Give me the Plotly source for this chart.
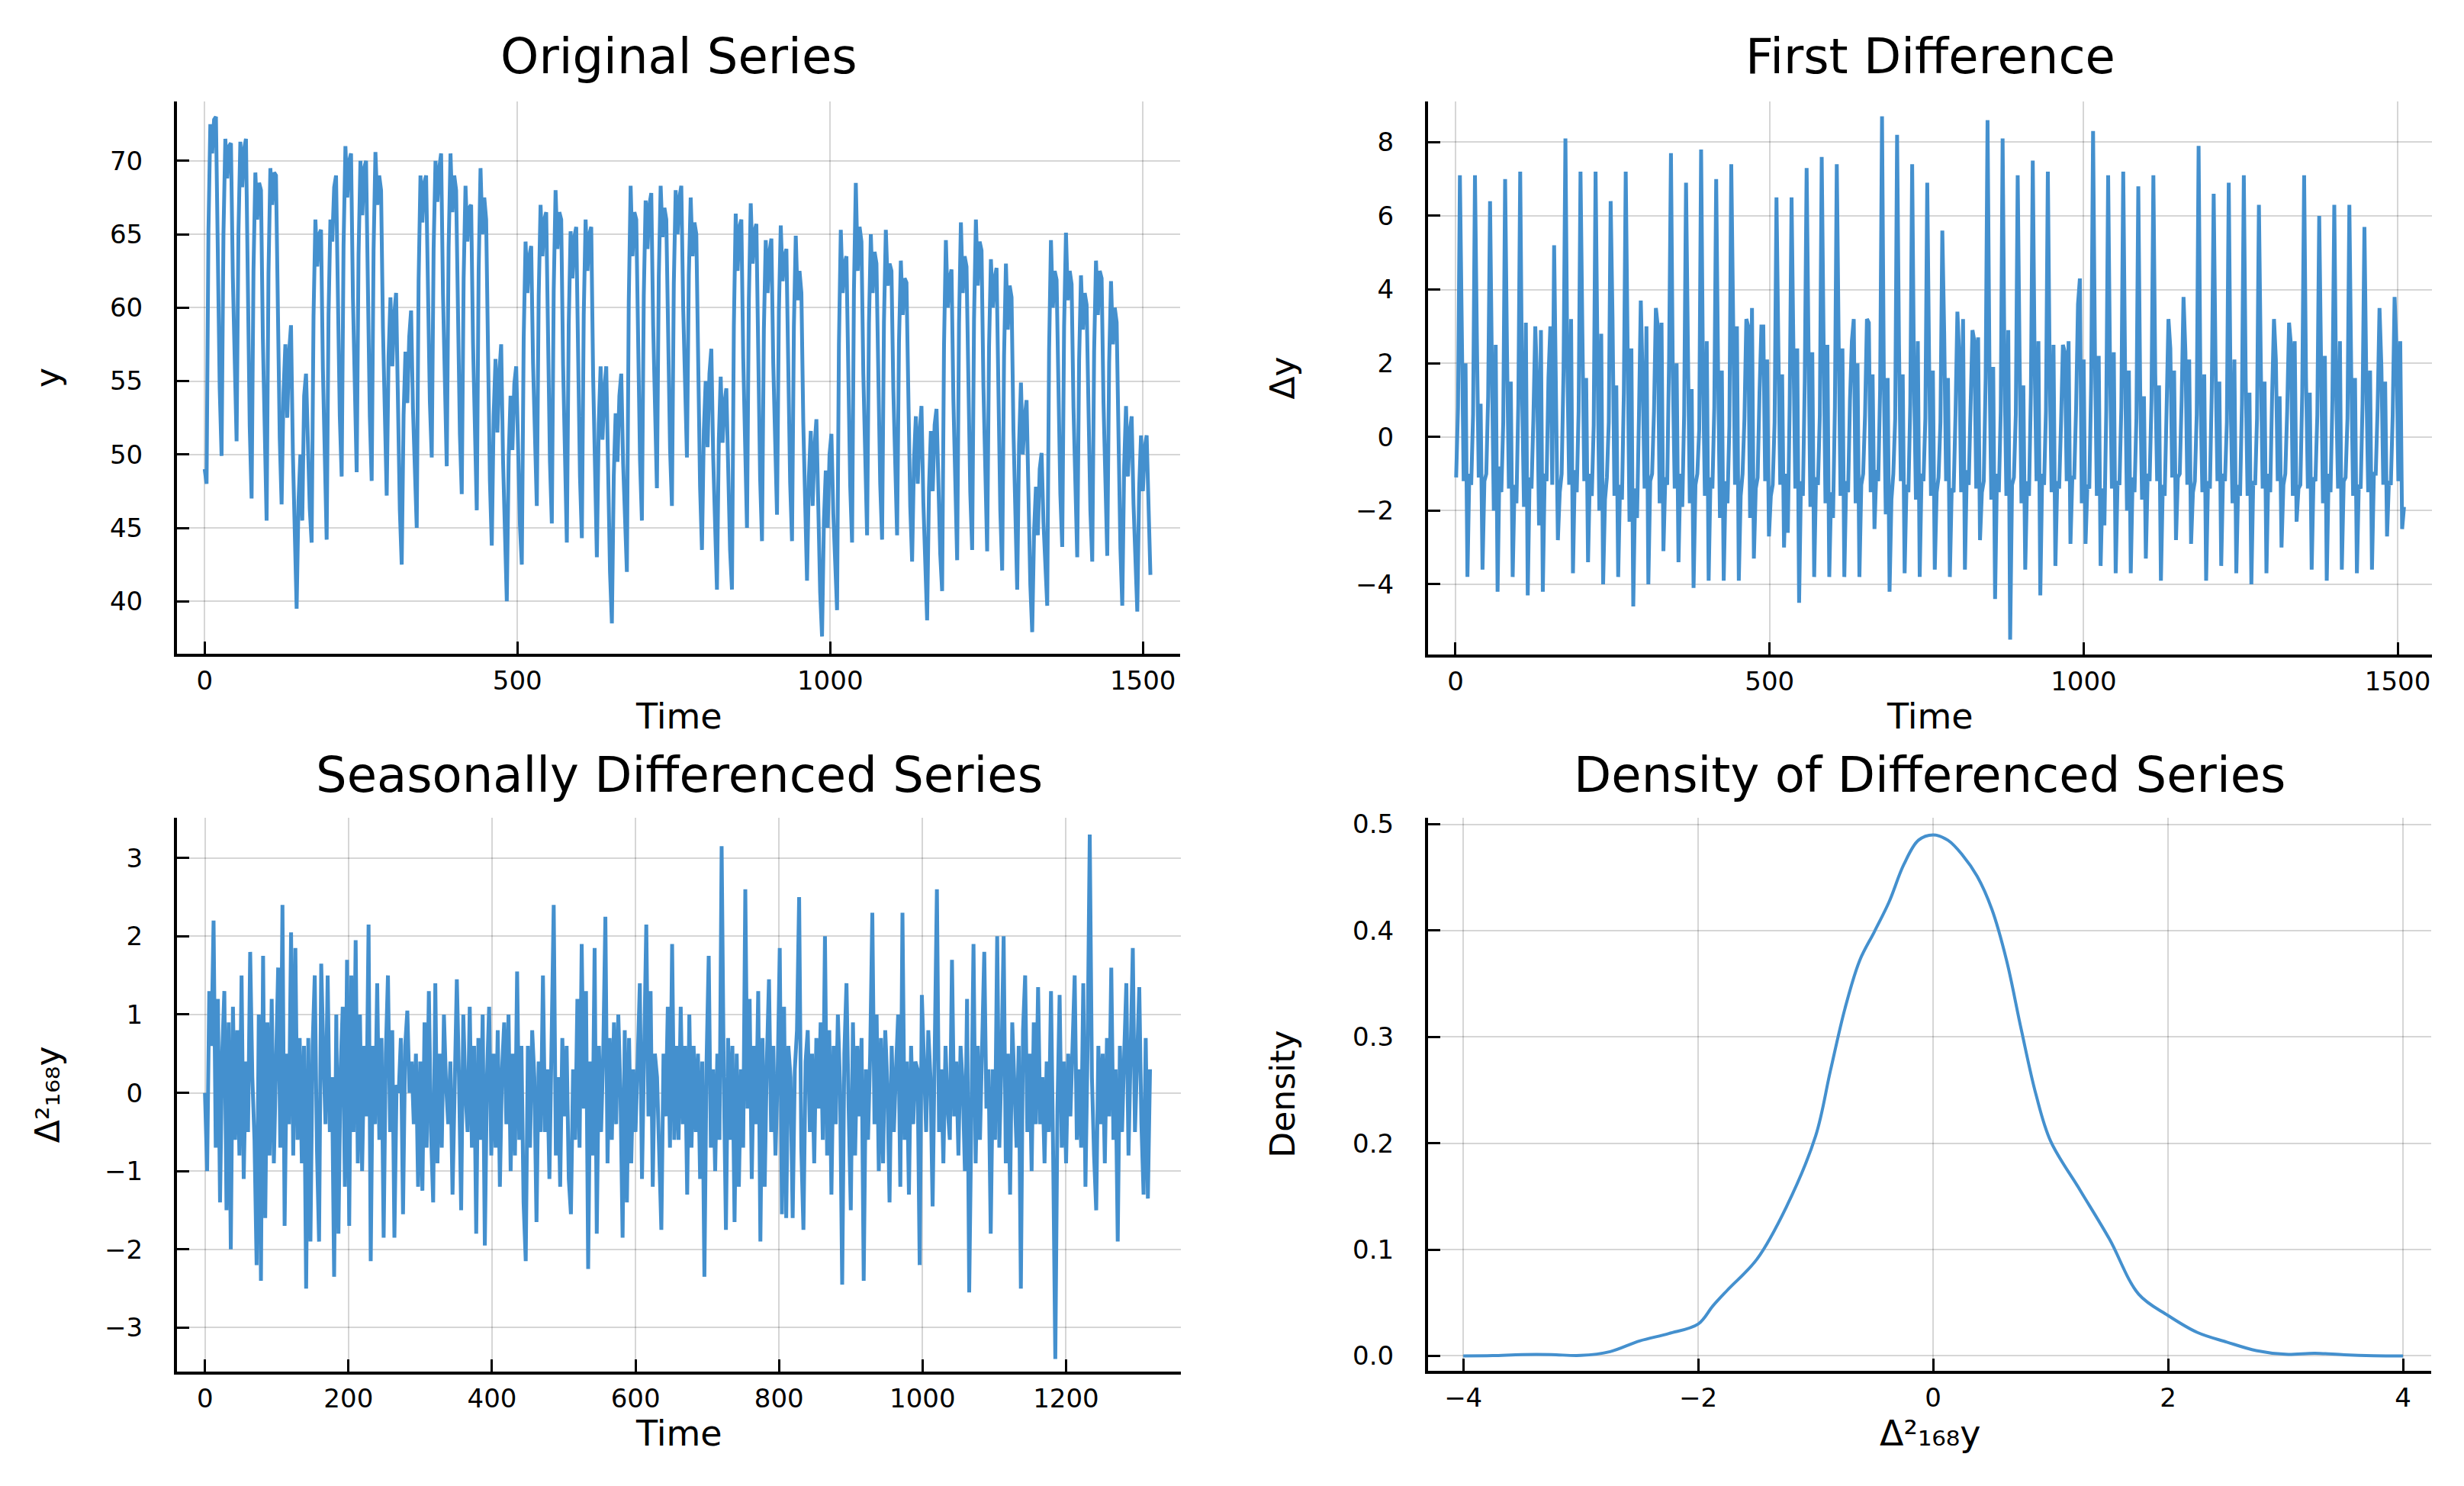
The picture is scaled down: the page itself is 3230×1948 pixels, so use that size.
import plotly.graph_objects as go

series_y = [
    49.0, 48.0, 65.2, 72.5, 70.5, 72.8, 73.0, 62.6,
    54.5, 49.9, 65.0, 71.5, 68.8, 71.0, 71.2, 62.1,
    55.0, 50.9, 65.2, 71.3, 68.2, 70.8, 71.5, 60.5,
    51.9, 47.0, 62.5, 69.2, 66.0, 68.5, 68.0, 57.9,
    50.0, 45.5, 62.3, 69.5, 67.0, 69.2, 69.0, 58.9,
    51.1, 46.6, 54.2, 57.5, 52.5, 57.0, 58.8, 50.1,
    43.4, 39.5, 46.8, 50.0, 45.5, 54.0, 55.5, 50.3,
    46.3, 44.0, 59.4, 66.0, 62.8, 65.0, 65.3, 55.8,
    48.4, 44.2, 59.5, 66.0, 64.5, 68.2, 69.0, 59.8,
    52.6, 48.5, 64.2, 71.0, 67.5, 70.0, 70.5, 60.7,
    53.1, 48.8, 63.6, 70.0, 66.3, 69.5, 70.0, 60.2,
    52.6, 48.2, 63.9, 70.6, 67.0, 69.0, 68.0, 58.6,
    51.4, 47.2, 56.7, 60.7, 56.0, 59.5, 61.0, 52.7,
    46.2, 42.5, 52.7, 57.0, 53.5, 58.0, 59.8, 53.1,
    48.0, 45.0, 61.8, 69.0, 65.8, 68.5, 69.0, 60.4,
    53.6, 49.8, 64.0, 70.0, 67.2, 69.5, 70.5, 60.9,
    53.5, 49.2, 64.1, 70.5, 66.5, 69.0, 68.0, 58.7,
    51.4, 47.3, 62.0, 68.3, 64.5, 66.8, 67.0, 57.6,
    50.4, 46.2, 62.5, 69.5, 65.0, 67.5, 66.0, 56.0,
    48.2, 43.8, 52.7, 56.5, 51.5, 55.5, 57.5, 49.6,
    43.5, 40.0, 49.8, 54.0, 50.3, 54.8, 56.0, 49.9,
    45.2, 42.5, 57.9, 64.5, 61.0, 63.5, 64.2, 56.2,
    50.0, 46.5, 60.8, 67.0, 63.5, 66.0, 66.5, 57.0,
    49.5, 45.3, 61.2, 68.0, 64.0, 66.5, 66.0, 56.1,
    48.4, 44.0, 58.8, 65.2, 62.0, 64.8, 65.5, 56.0,
    48.5, 44.3, 59.5, 66.0, 62.5, 65.0, 65.5, 55.4,
    47.5, 43.0, 52.1, 56.0, 51.0, 54.5, 56.0, 48.1,
    42.0, 38.5, 48.5, 52.8, 49.5, 54.0, 55.5, 49.4,
    44.7, 42.0, 60.4, 68.3, 63.5, 66.5, 66.0, 56.8,
    49.6, 45.5, 60.8, 67.3, 64.0, 67.0, 67.8, 58.8,
    51.7, 47.7, 62.1, 68.3, 64.8, 66.8, 66.0, 57.2,
    50.4, 46.5, 61.6, 68.0, 65.0, 67.5, 68.3, 60.0,
    53.5, 49.8, 62.2, 67.5, 63.5, 65.8, 65.0, 55.3,
    47.8, 43.5, 51.6, 55.0, 50.5, 55.5, 57.2, 49.8,
    44.1, 40.8, 51.0, 55.3, 50.8, 53.5, 54.5, 48.3,
    43.5, 40.8, 58.7, 66.4, 62.5, 65.5, 66.0, 56.6,
    49.2, 45.0, 60.5, 67.1, 63.0, 65.2, 65.7, 56.0,
    48.4, 44.1, 58.5, 64.6, 61.0, 63.8, 64.7, 56.2,
    49.7, 45.9, 59.7, 65.6, 61.8, 63.5, 64.0, 55.0,
    48.1, 44.1, 58.7, 64.9, 60.5, 62.5, 61.0, 52.2,
    45.3, 41.4, 48.5, 51.6, 46.5, 50.5, 52.4, 45.7,
    40.6, 37.6, 45.5, 48.9, 45.0, 50.0, 51.4, 46.0,
    41.8, 39.4, 57.5, 65.3, 61.0, 63.0, 63.5, 54.7,
    47.9, 44.0, 61.2, 68.5, 62.5, 65.5, 64.5, 55.5,
    48.5, 44.5, 58.9, 65.0, 61.0, 63.8, 63.0, 54.5,
    48.0, 44.2, 59.0, 65.3, 61.5, 63.0, 62.5, 54.4,
    48.1, 44.5, 57.6, 63.2, 59.5, 62.0, 61.7, 53.2,
    46.5, 42.7, 49.6, 52.6, 48.0, 51.5, 53.3, 46.7,
    41.6, 38.7, 47.7, 51.6, 47.5, 52.0, 53.1, 47.5,
    43.2, 40.7, 57.4, 64.6, 60.0, 62.0, 62.6, 53.7,
    46.8, 42.8, 58.9, 65.8, 61.0, 63.5, 62.8, 54.1,
    47.4, 43.5, 59.2, 66.0, 61.5, 64.5, 63.9, 54.7,
    47.5, 43.4, 57.3, 63.3, 60.0, 62.0, 62.7, 53.4,
    46.2, 42.1, 56.7, 63.0, 58.5, 61.5, 60.7, 51.7,
    44.8, 40.8, 50.7, 54.9, 50.0, 52.5, 53.7, 46.6,
    41.1, 37.9, 44.8, 47.8, 44.5, 49.0, 50.1, 45.4,
    41.8, 39.7, 57.1, 64.6, 60.0, 62.5, 61.9, 53.7,
    47.3, 43.7, 58.7, 65.1, 60.5, 62.5, 61.6, 53.2,
    46.7, 43.0, 56.4, 62.2, 58.5, 61.0, 60.2, 52.3,
    46.2, 42.7, 57.0, 63.2, 59.5, 62.5, 62.0, 53.5,
    46.9, 43.1, 56.2, 61.8, 57.5, 60.0, 59.0, 50.3,
    43.6, 39.7, 49.2, 53.3, 48.5, 51.5, 52.6, 46.6,
    42.0, 39.3, 47.7, 51.3, 47.5, 50.5, 51.3, 46.0,
    41.8,
]

diff_y = [
    -1.1, 0.8, 7.1, 1.9, -1.2, 2.0, -3.8, -1.0,
    -1.3, 0.6, 7.1, 2.7, -1.1, 0.9, -3.6, -1.2,
    -1.0, 1.1, 6.4, 1.8, -2.0, 2.5, -4.2, -0.8,
    -1.5, 0.4, 7.0, 2.3, -1.4, 1.5, -3.8, -1.3,
    -1.8, 0.9, 7.2, 1.2, -1.9, 3.1, -4.3, -1.1,
    -1.4, 0.5, 3.0, 1.4, -2.4, 2.9, -4.2, -1.0,
    -1.2, 1.6, 3.0, -1.3, 5.2, 1.1, -2.8, -1.5,
    -1.0, 1.8, 8.1, 2.0, -1.3, 3.2, -3.7, -0.9,
    -1.5, 0.7, 7.2, 2.8, -1.2, 1.6, -3.4, -1.0,
    -1.6, 0.3, 7.2, 2.2, -2.0, 2.8, -4.0, -1.7,
    -1.1, 0.4, 6.4, 3.2, -1.6, 1.4, -3.8, -1.3,
    -1.7, 1.2, 7.2, 2.4, -2.3, 2.4, -4.6, -1.4,
    -2.2, 0.5, 3.7, 1.5, -1.4, 3.0, -4.0, -1.2,
    -1.0, 0.7, 3.5, 3.0, -1.8, 3.1, -3.1, -1.1,
    -1.3, 2.1, 7.7, 1.6, -1.4, 2.0, -3.4, -1.0,
    -1.9, 0.6, 6.9, 2.4, -1.8, 1.3, -4.1, -1.3,
    -1.0, 0.2, 7.8, 1.7, -1.6, 2.6, -3.9, -1.1,
    -1.4, 0.8, 7.0, 1.8, -2.2, 1.8, -3.9, -1.2,
    -1.8, 0.3, 7.4, 3.2, -1.3, 3.0, -3.9, -1.6,
    -1.0, 0.5, 3.2, 3.0, -2.2, 3.5, -3.3, -1.4,
    -1.1, 1.2, 3.0, 3.0, -1.2, 2.1, -2.7, -1.6,
    -1.3, 0.4, 6.5, 2.4, -1.3, 1.7, -3.0, -1.0,
    -2.6, 0.9, 6.5, 2.3, -1.4, 2.4, -4.5, -1.2,
    -1.6, 1.5, 7.3, 2.4, -1.9, 2.3, -3.8, -1.1,
    -1.3, 0.6, 7.6, 2.6, -1.8, 2.5, -3.8, -1.5,
    -2.2, 0.8, 7.4, 2.6, -1.6, 2.4, -3.8, -1.2,
    -1.5, 1.0, 2.6, 3.2, -1.8, 2.0, -3.8, -1.3,
    -1.0, 0.6, 3.2, 3.1, -1.5, 1.7, -2.5, -0.9,
    -1.2, 1.3, 8.7, 1.4, -2.1, 1.6, -4.2, -1.7,
    -1.0, 0.5, 8.2, 2.5, -1.2, 1.7, -3.7, -1.3,
    -1.5, 0.9, 7.4, 1.5, -1.7, 2.6, -3.8, -1.0,
    -1.2, 0.5, 6.9, 2.0, -1.6, 1.8, -3.6, -1.5,
    -1.1, 0.4, 5.6, 2.8, -1.2, 1.6, -3.8, -1.4,
    -1.5, 0.6, 3.4, 2.2, -1.5, 3.2, -3.6, -0.9,
    -1.3, 0.8, 2.9, 2.6, -1.4, 2.7, -2.8, -1.5,
    -1.2, 1.6, 8.6, 2.0, -1.7, 1.9, -4.4, -1.0,
    -1.5, 0.7, 8.1, 1.8, -1.6, 2.9, -5.5, -1.3,
    -1.1, 0.6, 7.1, 2.2, -1.8, 1.4, -3.6, -1.2,
    -1.6, 1.2, 7.5, 2.0, -1.2, 2.6, -4.3, -1.0,
    -1.3, 0.7, 7.2, 1.7, -1.5, 2.5, -3.5, -1.2,
    -1.4, 0.4, 2.5, 2.3, -1.2, 2.6, -2.9, -1.1,
    -1.1, 0.8, 3.6, 4.3, -1.8, 2.1, -2.9, -1.3,
    -1.4, 1.5, 8.3, 2.2, -1.6, 2.2, -3.5, -1.4,
    -2.4, 0.7, 7.1, 1.9, -1.4, 2.3, -3.7, -1.2,
    -1.3, 0.8, 7.2, 1.8, -2.0, 1.8, -3.7, -1.1,
    -1.5, 0.5, 6.8, 1.3, -1.7, 1.1, -3.3, -1.0,
    -1.2, 1.0, 7.1, 1.7, -1.2, 1.4, -3.9, -1.3,
    -1.6, 0.7, 3.2, 2.4, -1.1, 1.8, -2.8, -1.1,
    -1.0, 1.0, 3.8, 2.3, -1.3, 2.1, -2.9, -1.5,
    -1.2, 0.6, 7.9, 1.1, -1.5, 1.7, -3.9, -1.2,
    -1.4, 1.3, 6.6, 2.0, -1.2, 1.5, -3.5, -1.0,
    -1.2, 0.4, 6.9, 1.0, -1.8, 2.1, -3.7, -1.3,
    -1.6, 0.9, 7.1, 1.5, -1.6, 1.2, -4.0, -1.2,
    -1.3, 0.5, 6.3, 2.0, -1.4, 1.5, -3.7, -1.0,
    -1.5, 1.1, 3.2, 2.1, -1.2, 1.1, -3.0, -1.3,
    -1.0, 0.7, 3.1, 2.5, -1.6, 2.6, -2.3, -1.4,
    -1.3, 1.2, 7.1, 1.6, -1.4, 1.2, -3.6, -1.1,
    -1.2, 0.6, 6.0, 2.0, -1.8, 2.2, -3.9, -1.0,
    -1.5, 1.0, 6.3, 1.2, -1.4, 2.6, -3.6, -1.2,
    -1.1, 0.5, 6.3, 1.7, -1.6, 1.6, -3.7, -1.3,
    -1.4, 0.9, 5.7, 1.5, -1.5, 1.8, -3.6, -1.0,
    -1.0, 0.8, 3.5, 1.9, -1.3, 1.5, -2.7, -1.2,
    -1.3, 0.6, 3.8, 2.4, -1.2, 2.6, -2.5, -1.9,
]

seasonal_y = [
    0.0, -1.0, 1.3, 0.6, 2.2, -0.7, 1.2, -1.4, 0.5, 1.3, -1.5, 0.9, -2.0, 1.1, -0.6, 0.8, -0.8, 1.5, -1.1, 0.4,
    -0.5, 1.8, 0.2, -0.6, -2.2, 1.0, -2.4, 1.75, -1.6, 0.9, -0.8, 1.2, -0.9, 0.4, 1.6, -0.7, 2.4, -1.7, 0.5, -0.4,
    2.05, -0.8, 1.85, -0.6, 0.7, -0.9, 0.6, -2.5, 0.7, -1.9, 0.6, 1.5, -0.7, -1.9, 1.65, 0.5, -0.4, 1.5, -0.5, 0.2,
    -2.35, 1.0, -1.8, 0.3, 1.1, -1.2, 1.7, -1.7, 1.5, -0.5, 1.95, -0.9, 1.0, -1.0, 0.6, -0.3, 2.15, -2.15, 0.6, -0.4,
    1.4, -0.6, 0.7, -1.85, 0.5, 1.5, -0.5, 0.8, -1.85, 0.1, 0.0, 0.7, -1.55, 0.6, 1.05, 0.0, 0.4, -0.4, 0.5, -1.2,
    0.4, -1.25, 0.9, -0.7, 1.3, -0.5, -1.4, 1.4, -0.9, 0.5, -0.7, 1.0, 0.1, -0.4, 0.4, -1.3, 0.3, 1.45, 0.2, -1.5,
    1.0, 0.0, -0.5, 1.1, -0.7, 0.6, -1.8, 0.7, -0.6, 1.0, -1.95, 0.2, 1.1, -0.8, 0.5, -0.7, 0.8, -1.2, 0.3, 0.9,
    -0.4, 1.0, -1.0, 0.5, -0.8, 1.55, -0.6, 0.6, -1.4, -2.15, 0.6, -0.7, 0.8, 0.2, -1.65, 0.4, -0.5, 1.5, -0.5, 0.3,
    -1.1, 0.6, 2.4, -0.8, 0.2, -1.2, 0.7, -0.3, 0.6, -1.1, -1.55, 0.3, -0.6, 1.2, -0.7, 1.9, -0.2, 1.3, -2.25, 0.4,
    -0.8, 1.85, -1.8, 0.6, -0.5, 0.5, 2.25, -0.9, 0.7, -0.6, 0.9, -0.4, 1.0, 0.0, -1.85, 0.8, -1.4, 0.7, -0.9, 0.3,
    -0.5, 0.4, 1.4, -1.1, 0.6, 2.15, -0.3, 1.3, -1.2, 0.5, 0.2, -0.6, -1.75, 0.5, -0.3, 1.1, -0.7, 1.9, -0.6, 0.6,
    -0.6, 1.1, -0.4, 0.6, -1.3, 1.0, -0.7, 0.6, -0.5, 0.5, -1.1, 0.4, -2.35, 0.4, 1.75, -0.7, 0.3, -1.0, 0.5, -0.6,
    3.15, 0.2, -1.75, 0.7, -0.6, 0.6, -1.65, 0.5, -1.2, 0.3, -0.7, 2.6, -0.2, 1.2, -1.1, 0.6, -0.4, 1.3, -1.9, 0.7,
    -1.2, 0.4, 1.45, -0.5, 0.6, -0.8, 0.2, 1.85, -1.55, 1.1, -1.6, 0.6, 0.2, -1.6, 0.3, 0.8, 2.5, -0.7, -1.75, 0.4,
    0.8, -0.5, 0.5, -0.9, 0.7, -0.2, 0.9, -0.6, 2.0, -0.8, 0.8, -1.3, 0.6, -0.4, 1.0, 0.1, -2.45, 0.5, 1.4, -0.2,
    -1.5, 0.9, -0.8, 0.6, -0.3, 0.7, -2.4, 0.3, -0.6, 0.5, 2.3, -0.4, 1.0, -1.0, 0.7, -0.9, 0.8, 0.1, -1.4, 0.6,
    -0.5, 0.3, 1.0, -1.2, 2.3, -0.6, 0.4, -1.3, 0.6, -0.4, 0.4, 0.3, -2.2, 1.25, 0.4, -0.5, 0.8, 0.2, -1.45, 0.5,
    2.6, -0.5, 0.3, -0.9, 0.6, -0.2, -0.6, 1.7, -0.3, 0.4, -0.8, 0.6, 0.1, -1.0, 1.2, -2.55, -0.2, 1.9, -0.9, 0.6,
    -0.6, 0.6, 1.8, -0.2, 0.3, -1.8, 0.3, -0.6, 2.0, -0.7, 0.4, 2.0, -0.9, 0.5, -1.3, 0.9, 0.2, -0.7, 0.6, -2.5,
    0.8, 1.5, -0.5, 0.5, -1.0, 0.9, -0.4, 1.35, -0.4, 0.2, -0.9, 0.4, -0.5, 1.3, -0.8, -3.4, -0.2, 1.25, -0.7, 0.4,
    -0.9, 0.5, -0.3, 0.7, 1.5, -0.6, 0.3, -0.7, 1.4, -1.2, 0.6, 3.3, 0.2, -0.8, -1.5, 0.6, -0.4, 0.5, -0.9, 0.7,
    -0.3, 1.6, -0.6, 0.3, -1.9, 0.6, -0.5, 0.5, 1.4, -0.8, 0.4, 1.85, -0.5, 0.4, 1.35, -0.4, -1.3, 0.7, -1.35, 0.3,
]

density_x = [-4.0, -3.75, -3.5, -3.25, -3.0, -2.75, -2.5, -2.25, -2.0, -1.875, -1.75, -1.5, -1.25,
             -1.0, -0.875, -0.75, -0.625, -0.5, -0.375, -0.25, -0.125, 0.0, 0.125, 0.25, 0.375,
             0.5, 0.625, 0.75, 0.875, 1.0, 1.25, 1.5, 1.75, 2.0, 2.25, 2.5, 2.75, 3.0, 3.25,
             3.5, 3.75, 4.0]
density_y = [0.0, 0.0003, 0.0012, 0.0012, 0.0004, 0.004, 0.014, 0.021, 0.03, 0.047, 0.062, 0.091, 0.14,
             0.207, 0.268, 0.327, 0.372, 0.399, 0.427, 0.462, 0.485, 0.49, 0.485, 0.471, 0.451,
             0.42, 0.372, 0.307, 0.246, 0.202, 0.156, 0.11, 0.058, 0.038, 0.022, 0.013, 0.005, 0.0015, 0.0025,
             0.001, 0.0002, 0.0]

series_t = [3 * i for i in range(len(series_y))]
diff_t = [1 + 3 * i for i in range(len(diff_y))]
seasonal_t = [3 * i for i in range(len(seasonal_y))]

titles = ["Original Series", "First Difference", "Seasonally Differenced Series", "Density of Differenced Series"]
x_labels = ["Time", "Time", "Time", "Δ²₁₆₈y"]
y_labels = ["y", "Δy", "Δ²₁₆₈y", "Density"]

# ---------------- figure ----------------
W, H = 3230, 1948
BLUE = "#4490CE"
FONT = "DejaVu Sans"
LW = 5

fig = go.Figure()
fig.add_trace(go.Scatter(x=series_t, y=series_y, mode="lines", line=dict(color=BLUE, width=LW),
                         xaxis="x", yaxis="y", showlegend=False))
fig.add_trace(go.Scatter(x=diff_t, y=diff_y, mode="lines", line=dict(color=BLUE, width=LW),
                         xaxis="x2", yaxis="y2", showlegend=False))
fig.add_trace(go.Scatter(x=seasonal_t, y=seasonal_y, mode="lines", line=dict(color=BLUE, width=LW),
                         xaxis="x3", yaxis="y3", showlegend=False))
fig.add_trace(go.Scatter(x=density_x, y=density_y, mode="lines", line=dict(color=BLUE, width=4, shape="spline"),
                         xaxis="x4", yaxis="y4", showlegend=False))

# pixel boxes of plot areas (left, right, top, bottom)
boxes = [(232, 1547, 122, 850), (1872, 3188, 122, 851), (232, 1548, 1067, 1797), (1872, 3187, 1067, 1796)]
xranges = [[-44.3, 1559.5], [-43.7, 1554.5], [-39, 1360], [-4.30, 4.24]]
yranges = [[36.44, 74.03], [-5.9, 9.1], [-3.56, 3.51], [-0.014, 0.5058]]
xticks = [[0, 500, 1000, 1500], [0, 500, 1000, 1500], [0, 200, 400, 600, 800, 1000, 1200], [-4, -2, 0, 2, 4]]
yticks = [[40, 45, 50, 55, 60, 65, 70], [-4, -2, 0, 2, 4, 6, 8], [-3, -2, -1, 0, 1, 2, 3],
          [0.0, 0.1, 0.2, 0.3, 0.4, 0.5]]

common = dict(showline=True, linecolor="black", linewidth=4, ticks="inside", ticklen=16, tickwidth=3,
              tickcolor="black", showgrid=True, gridcolor="rgba(0,0,0,0.16)", gridwidth=2,
              zeroline=False, mirror=False, tickfont=dict(family=FONT, size=34, color="black"))

layout = dict(width=W, height=H, margin=dict(l=0, r=0, t=0, b=0), plot_bgcolor="white",
              paper_bgcolor="white", showlegend=False)
annotations = []
for i, (l, r, t, b) in enumerate(boxes):
    sfx = "" if i == 0 else str(i + 1)
    xd = [l / W, r / W]
    yd = [1 - b / H, 1 - t / H]
    xa = dict(common, domain=xd, range=xranges[i], tickvals=xticks[i], anchor="y" + sfx,
              ticklabelstandoff=2)
    ya = dict(common, domain=yd, range=yranges[i], tickvals=yticks[i], anchor="x" + sfx,
              ticklabelstandoff=34)
    if i == 3:
        ya["tickformat"] = ".1f"
    layout["xaxis" + sfx] = xa
    layout["yaxis" + sfx] = ya
    cx = (l + r) / 2 / W
    title_y = 62 if i < 2 else 1010
    annotations.append(dict(text=titles[i], x=cx, y=1 - title_y / H, xref="paper", yref="paper",
                            showarrow=False, xanchor="center", yanchor="middle",
                            font=dict(family=FONT, size=64, color="black")))
    xl_y = 933 if i < 2 else 1879
    annotations.append(dict(text=x_labels[i], x=cx, y=1 - xl_y / H, xref="paper", yref="paper",
                            showarrow=False, xanchor="center", yanchor="middle",
                            font=dict(family=FONT, size=46, color="black")))
    yl_x = 62 if i in (0, 2) else 1682
    annotations.append(dict(text=y_labels[i], x=yl_x / W, y=1 - (t + b) / 2 / H, xref="paper", yref="paper",
                            showarrow=False, xanchor="center", yanchor="middle", textangle=-90,
                            font=dict(family=FONT, size=44, color="black")))
layout["annotations"] = annotations
fig.update_layout(**layout)

fig.write_html("out.html")
